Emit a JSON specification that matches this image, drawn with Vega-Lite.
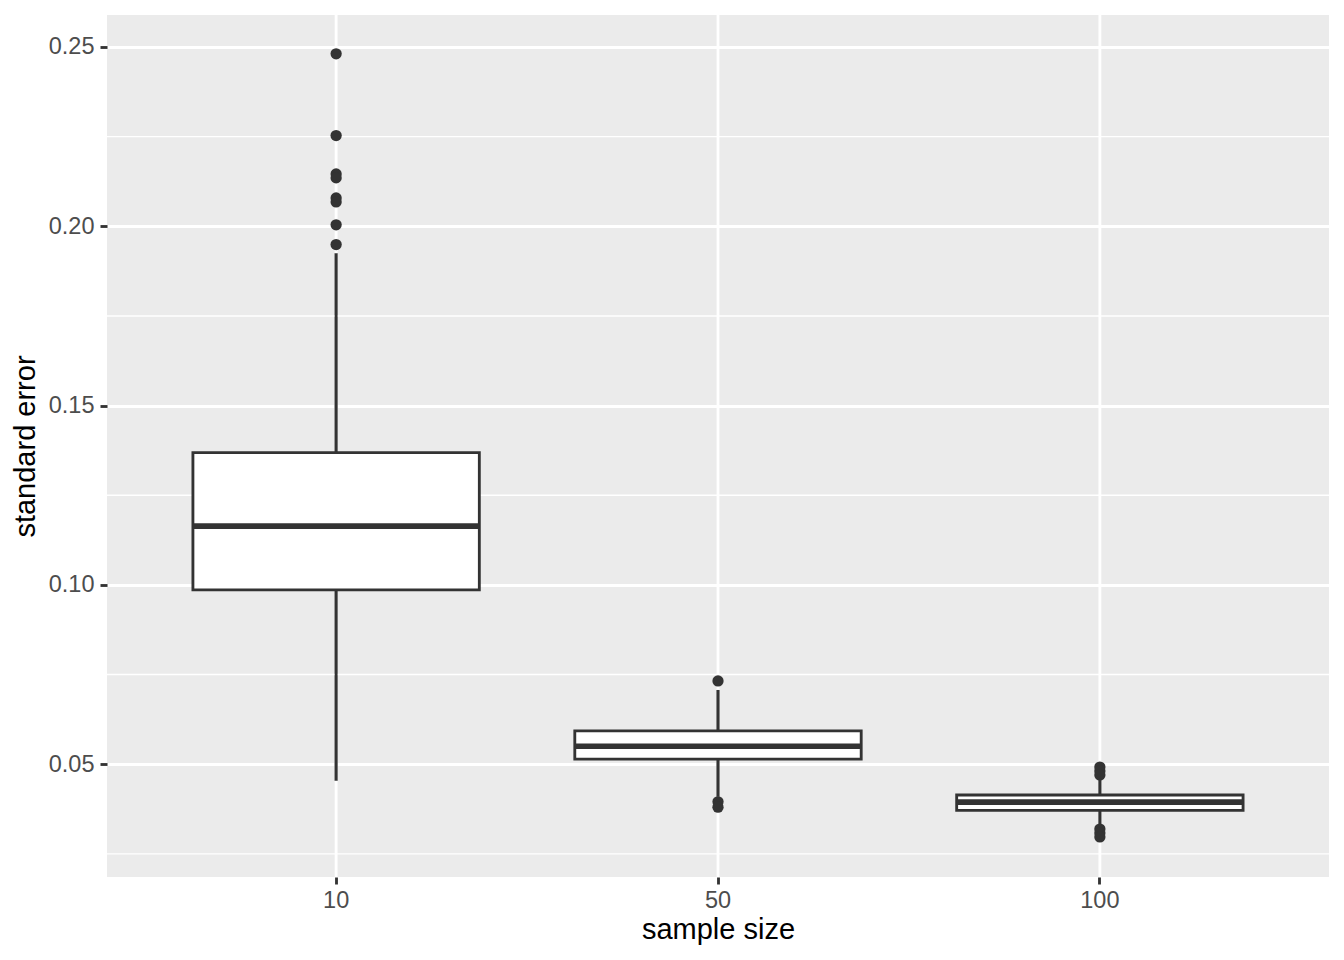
{
  "$schema": "https://vega.github.io/schema/vega-lite/v6.json",
  "width": 1222,
  "height": 862,
  "autosize": {"type": "none"},
  "padding": {"left": 107, "top": 15, "right": 15, "bottom": 83},
  "background": "white",
  "config": {
    "view": {"fill": "#EBEBEB", "stroke": null},
    "font": "Liberation Sans",
    "axis": {
      "labelFont": "Liberation Sans",
      "titleFont": "Liberation Sans",
      "labelFontSize": 23.5,
      "labelColor": "#4D4D4D",
      "titleFontSize": 29,
      "titleColor": "#000000",
      "titleFontWeight": "normal",
      "tickColor": "#333333",
      "tickSize": 7,
      "tickWidth": 2.85,
      "domain": false
    }
  },
  "datasets": {
    "summary": [
      {"n": "10", "lower": 0.0454, "q1": 0.0986, "median": 0.1164, "q3": 0.1369, "upper": 0.1925},
      {"n": "50", "lower": 0.0409, "q1": 0.0514, "median": 0.0550, "q3": 0.0593, "upper": 0.0707},
      {"n": "100", "lower": 0.0330, "q1": 0.0371, "median": 0.0394, "q3": 0.0414, "upper": 0.0459}
    ],
    "outliers": [
      {"n": "10", "se": 0.2481},
      {"n": "10", "se": 0.2253},
      {"n": "10", "se": 0.2146},
      {"n": "10", "se": 0.2135},
      {"n": "10", "se": 0.2079},
      {"n": "10", "se": 0.2068},
      {"n": "10", "se": 0.2004},
      {"n": "10", "se": 0.1949},
      {"n": "50", "se": 0.0732},
      {"n": "50", "se": 0.0395},
      {"n": "50", "se": 0.0380},
      {"n": "100", "se": 0.0492},
      {"n": "100", "se": 0.0481},
      {"n": "100", "se": 0.0470},
      {"n": "100", "se": 0.0319},
      {"n": "100", "se": 0.0308},
      {"n": "100", "se": 0.0297}
    ],
    "minor": [
      {"v": 0.025}, {"v": 0.075}, {"v": 0.125}, {"v": 0.175}, {"v": 0.225}
    ]
  },
  "layer": [
    {
      "data": {"name": "summary"},
      "mark": {"type": "rule", "color": "#333333", "strokeWidth": 2.85},
      "encoding": {
        "x": {
          "field": "n",
          "type": "nominal",
          "sort": ["10", "50", "100"],
          "scale": {"type": "band", "domain": ["10", "50", "100"], "paddingInner": 0.25, "paddingOuter": 0.225},
          "axis": {"title": "sample size", "labelAngle": 0, "grid": false, "labelPadding": 4, "titlePadding": 4}
        },
        "y": {
          "field": "lower",
          "type": "quantitative",
          "scale": {"domain": [0.01854, 0.25892], "nice": false, "zero": false},
          "axis": {
            "title": "standard error",
            "values": [0.05, 0.1, 0.15, 0.2, 0.25],
            "format": ".2f",
            "grid": true,
            "gridColor": "#FFFFFF",
            "gridWidth": 2.85,
            "labelPadding": 6,
            "titlePadding": 8
          }
        },
        "y2": {"field": "upper"}
      }
    },
    {
      "data": {"name": "minor"},
      "mark": {"type": "rule", "color": "#FFFFFF", "strokeWidth": 1.4},
      "encoding": {
        "y": {"field": "v", "type": "quantitative"}
      }
    },
    {
      "data": {"name": "summary"},
      "mark": {"type": "rule", "color": "#FFFFFF", "strokeWidth": 2.85},
      "encoding": {
        "x": {"field": "n", "type": "nominal"}
      }
    },
    {
      "data": {"name": "summary"},
      "mark": {"type": "rule", "color": "#333333", "strokeWidth": 2.85},
      "encoding": {
        "x": {"field": "n", "type": "nominal"},
        "y": {"field": "lower", "type": "quantitative"},
        "y2": {"field": "upper"}
      }
    },
    {
      "data": {"name": "summary"},
      "mark": {"type": "bar", "fill": "#FFFFFF", "stroke": "#333333", "strokeWidth": 2.85},
      "encoding": {
        "x": {"field": "n", "type": "nominal"},
        "y": {"field": "q1", "type": "quantitative"},
        "y2": {"field": "q3"}
      }
    },
    {
      "data": {"name": "summary"},
      "mark": {"type": "tick", "color": "#333333", "size": 286, "thickness": 5.7, "opacity": 1},
      "encoding": {
        "x": {"field": "n", "type": "nominal"},
        "y": {"field": "median", "type": "quantitative"}
      }
    },
    {
      "data": {"name": "outliers"},
      "mark": {"type": "point", "filled": true, "color": "#333333", "size": 127, "opacity": 1},
      "encoding": {
        "x": {"field": "n", "type": "nominal"},
        "y": {"field": "se", "type": "quantitative"}
      }
    }
  ],
  "resolve": {"scale": {"x": "shared", "y": "shared"}}
}
